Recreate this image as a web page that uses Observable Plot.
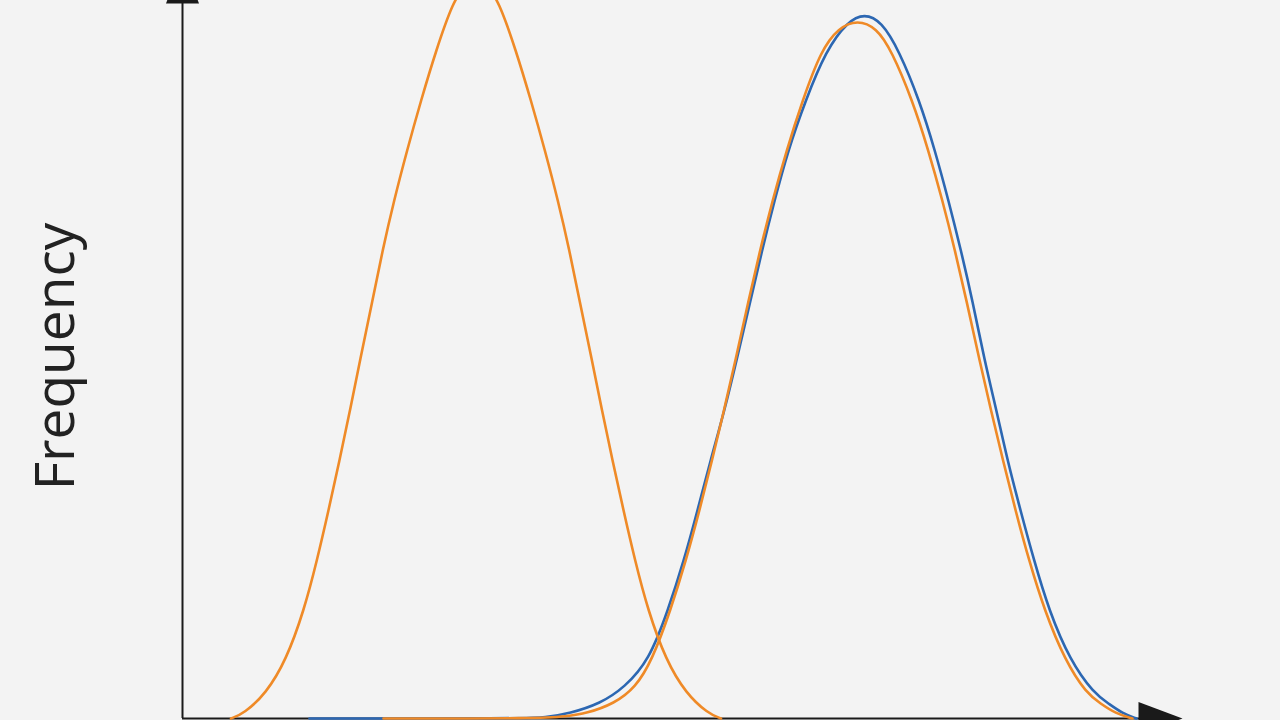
<!DOCTYPE html>
<html>
<head>
<meta charset="utf-8">
<script src="https://cdn.jsdelivr.net/npm/d3@7"></script>
<script src="https://cdn.jsdelivr.net/npm/@observablehq/plot@0.6"></script>
<style>
  html, body { margin: 0; padding: 0; background: #f3f3f3; }
  #chart { width: 1280px; height: 720px; overflow: hidden; }
</style>
</head>
<body>
<div id="chart"></div>
<script>
// Values (arbitrary units: x = value, y = frequency)
const yLabel = "Frequency";

const orangeAX = [4.85, 6.15, 8.35, 10.35, 12.15, 13.45, 14.6, 15.7, 16.75, 17.75, 19.0, 20.0, 21.15, 22.45, 23.85, 25.35, 27.1, 28.25, 29.35, 30.45, 31.6, 33.35, 34.85, 36.25, 37.55, 38.7, 39.7, 40.95, 41.95, 43.0, 44.1, 45.25, 46.55, 48.35, 50.35, 52.55, 53.85];
const orangeAY = [0, 0.70, 3.48, 8.08, 15.04, 22.01, 28.97, 35.93, 42.90, 49.86, 58.22, 65.18, 72.14, 79.11, 86.07, 93.04, 100, 102.09, 102.92, 102.09, 100, 93.04, 86.07, 79.11, 72.14, 65.18, 58.22, 49.86, 42.90, 35.93, 28.97, 22.01, 15.04, 8.08, 3.48, 0.70, 0];

const orangeBX = [20.1, 35.8, 38.3, 40.4, 43.2, 45.3, 46.95, 48.8, 50.35, 51.7, 52.95, 54.15, 55.3, 56.6, 57.75, 59.0, 60.4, 62.0, 63.85, 65.6, 67.5, 69.4, 70.9, 73.0, 74.6, 76.0, 77.25, 78.4, 79.7, 80.85, 82.05, 83.3, 84.65, 86.2, 88.25, 90.4, 91.8, 93.3, 95.0];
const orangeBY = [0, 0, 0.28, 0.70, 2.09, 4.32, 8.08, 15.04, 22.01, 28.97, 35.93, 42.90, 49.86, 58.22, 65.18, 72.14, 79.11, 86.07, 93.04, 96.2, 97.3, 96.2, 93.04, 86.07, 79.11, 72.14, 65.18, 58.22, 49.86, 42.90, 35.93, 28.97, 22.01, 15.04, 8.08, 3.48, 2.09, 0.70, 0];

const blueX = [12.7, 33.8, 36.3, 38.7, 41.8, 44.2, 46.65, 48.55, 50.15, 51.5, 52.8, 54.2, 55.4, 56.8, 57.95, 59.2, 60.55, 62.3, 64.35, 66.5, 68.2, 69.9, 71.65, 73.7, 75.25, 76.6, 77.85, 79.0, 80.2, 81.4, 82.5, 83.8, 85.15, 86.65, 88.75, 91.15, 92.6, 94.0, 95.4];
const blueY = [0, 0, 0.14, 0.70, 2.09, 4.32, 8.08, 15.04, 22.01, 28.97, 35.93, 42.90, 49.86, 58.22, 65.18, 72.14, 79.11, 86.07, 93.04, 97.08, 98.19, 97.08, 93.04, 86.07, 79.11, 72.14, 65.18, 58.22, 49.86, 42.90, 35.93, 28.97, 22.01, 15.04, 8.08, 3.48, 2.09, 0.70, 0];

const toRows = (xs, ys) => xs.map((x, i) => ({x, y: ys[i]}));
const orangeA = toRows(orangeAX, orangeAY);
const orangeB = toRows(orangeBX, orangeBY);
const blue = toRows(blueX, blueY);

const ORANGE = "#ef8a27";
const BLUE = "#2c67b2";
const AXIS = "#1a1a1a";

// filled arrowhead, tip at origin pointing right
const arrowHead = {
  draw(ctx) {
    ctx.moveTo(0, 0);
    ctx.lineTo(-44, -16.5);
    ctx.lineTo(-44, 16.5);
    ctx.closePath();
  }
};

const chart = Plot.plot({
  width: 1280,
  height: 720,
  marginLeft: 182,
  marginRight: 98,
  marginTop: 0,
  marginBottom: 2,
  x: {domain: [0, 100], axis: null},
  y: {domain: [0, 100], axis: null},
  style: {background: "#f3f3f3", overflow: "hidden"},
  marks: [
    Plot.ruleY([0], {x1: 0, x2: 95.8, stroke: AXIS, strokeWidth: 2}),
    Plot.ruleX([0], {y1: 0, y2: 100, stroke: AXIS, strokeWidth: 2}),
    Plot.line(blue, {x: "x", y: "y", stroke: BLUE, strokeWidth: 2.6, curve: "basis"}),
    Plot.line(orangeB, {x: "x", y: "y", stroke: ORANGE, strokeWidth: 2.6, curve: "basis"}),
    Plot.line(orangeA, {x: "x", y: "y", stroke: ORANGE, strokeWidth: 2.6, curve: "basis"}),
    Plot.dot([{x: 100, y: 0}], {x: "x", y: "y", r: 10, symbol: arrowHead, fill: AXIS, stroke: null}),
    Plot.dot([{x: 0, y: 105.7}], {x: "x", y: "y", r: 10, symbol: arrowHead, fill: AXIS, stroke: null, rotate: -90}),
    Plot.text([yLabel], {
      text: d => d,
      frameAnchor: "left",
      dx: -126,
      dy: -3,
      rotate: -90,
      textAnchor: "middle",
      lineAnchor: "middle",
      fontSize: 55,
      fontFamily: "Open Sans",
      fill: "#222"
    })
  ]
});

document.getElementById("chart").appendChild(chart);
</script>
</body>
</html>
